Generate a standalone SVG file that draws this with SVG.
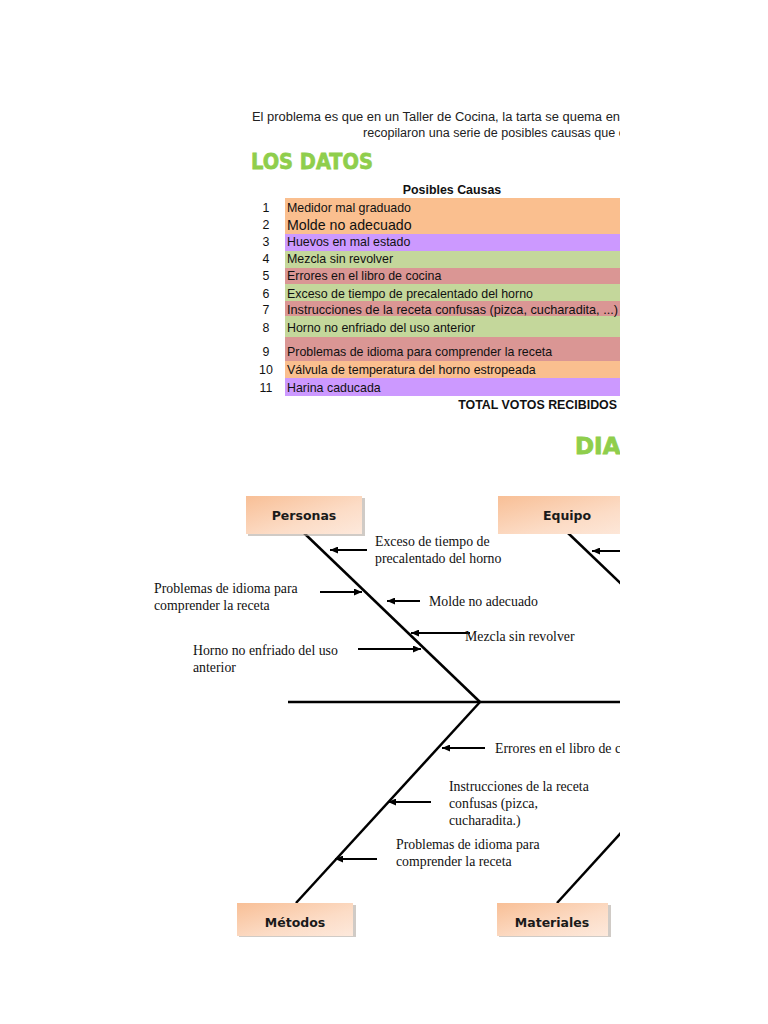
<svg xmlns="http://www.w3.org/2000/svg" width="768" height="1024" viewBox="0 0 768 1024">
<style>
.intro{font-family:"Liberation Sans","DejaVu Sans",sans-serif;font-size:12px;fill:#222}
.head{font-family:"DejaVu Sans","Liberation Sans",sans-serif;font-weight:900;fill:#8fce4c;stroke:#8fce4c;stroke-width:0.8}
.tb{font-family:"Liberation Sans",Arial,sans-serif;font-size:12.4px;fill:#111}
.num{font-family:"Liberation Sans",Arial,sans-serif;font-size:12.4px;fill:#111;text-anchor:middle}
.bold{font-weight:bold}
.lbl{font-family:"Liberation Serif","Times New Roman",serif;font-size:13.8px;fill:#111}
.box{fill:url(#boxg)}
.shadow{fill:#b0a8a0;opacity:0.6}
.btxt{font-family:"DejaVu Sans","Liberation Sans",sans-serif;font-weight:bold;font-size:12.5px;fill:#1a1a1a;text-anchor:middle}
.bone{stroke:#000;stroke-width:2.5;fill:none}
.arr{stroke:#000;stroke-width:2;fill:none;marker-end:url(#ah)}
.orange{fill:#fabf8f}.purple{fill:#cc99ff}.green{fill:#c4d79b}.red{fill:#da9694}
</style>
<defs>
<clipPath id="page"><rect x="0" y="0" width="620" height="1024"/></clipPath>
<linearGradient id="boxg" x1="0" y1="0" x2="1" y2="1">
<stop offset="0" stop-color="#f8bf96"/>
<stop offset="0.6" stop-color="#fcdcc6"/>
<stop offset="1" stop-color="#fde9dc"/>
</linearGradient>
<marker id="ah" markerWidth="8" markerHeight="7" refX="8" refY="3.5" orient="auto" markerUnits="userSpaceOnUse">
<path d="M0,0 L8,3.5 L0,7 Z" fill="#000"/>
</marker>
</defs>
<rect width="768" height="1024" fill="#fff"/>
<g clip-path="url(#page)">
<g id="intro">
<text class="intro" x="252" y="121" textLength="368" lengthAdjust="spacingAndGlyphs">El problema es que en un Taller de Cocina, la tarta se quema en</text>
<text class="intro" x="363" y="137" textLength="262" lengthAdjust="spacingAndGlyphs">recopilaron una serie de posibles causas que c</text>
</g>
<text class="head" x="251" y="169" font-size="22" textLength="122" lengthAdjust="spacingAndGlyphs">LOS DATOS</text>
<g id="table">
<text class="tb bold" x="452" y="194" text-anchor="middle">Posibles Causas</text>
<rect class="orange" x="285" y="198" width="335" height="36"/>
<rect class="purple" x="285" y="234" width="335" height="17"/>
<rect class="green" x="285" y="251" width="335" height="17"/>
<rect class="red" x="285" y="268" width="335" height="16"/>
<rect class="green" x="285" y="284" width="335" height="17"/>
<rect class="red" x="285" y="301" width="335" height="15"/>
<rect class="green" x="285" y="316" width="335" height="21"/>
<rect class="red" x="285" y="337" width="335" height="24"/>
<rect class="orange" x="285" y="361" width="335" height="17"/>
<rect class="purple" x="285" y="378" width="335" height="18"/>
<text class="num" x="266" y="212">1</text><text class="tb" x="287" y="212">Medidor mal graduado</text>
<text class="num" x="266" y="229">2</text><text class="tb" x="287" y="230" style="font-size:14.2px">Molde no adecuado</text>
<text class="num" x="266" y="246">3</text><text class="tb" x="287" y="246">Huevos en mal estado</text>
<text class="num" x="266" y="263">4</text><text class="tb" x="287" y="263">Mezcla sin revolver</text>
<text class="num" x="266" y="280">5</text><text class="tb" x="287" y="280">Errores en el libro de cocina</text>
<text class="num" x="266" y="298">6</text><text class="tb" x="287" y="298">Exceso de tiempo de precalentado del horno</text>
<text class="num" x="266" y="314">7</text><text class="tb" x="287" y="314" textLength="331" lengthAdjust="spacingAndGlyphs">Instrucciones de la receta confusas (pizca, cucharadita, ...)</text>
<text class="num" x="266" y="332">8</text><text class="tb" x="287" y="332">Horno no enfriado del uso anterior</text>
<text class="num" x="266" y="356">9</text><text class="tb" x="287" y="356">Problemas de idioma para comprender la receta</text>
<text class="num" x="266" y="374">10</text><text class="tb" x="287" y="374">Válvula de temperatura  del horno estropeada</text>
<text class="num" x="266" y="392">11</text><text class="tb" x="287" y="392">Harina caducada</text>
<text class="tb bold" x="617" y="409" text-anchor="end">TOTAL VOTOS RECIBIDOS</text>
</g>
<text class="head" x="575" y="454" font-size="23">DIAG</text>
<g id="connectors">
<line class="bone" x1="288" y1="702" x2="625" y2="702"/>
<line class="bone" x1="304" y1="533" x2="480" y2="702"/>
<line class="bone" x1="480" y1="702" x2="296" y2="903"/>
<line class="bone" x1="568" y1="533" x2="640" y2="602"/>
<line class="bone" x1="557" y1="903" x2="640" y2="812"/>
<line class="arr" x1="367" y1="550" x2="330" y2="550"/>
<line class="arr" x1="320" y1="592" x2="362" y2="592"/>
<line class="arr" x1="420" y1="601" x2="387" y2="601"/>
<line class="arr" x1="470" y1="633" x2="411" y2="633"/>
<line class="arr" x1="358" y1="649" x2="421" y2="649"/>
<line class="arr" x1="485" y1="748" x2="442" y2="748"/>
<line class="arr" x1="431" y1="802" x2="388" y2="802"/>
<line class="arr" x1="377" y1="859" x2="335" y2="859"/>
<line class="arr" x1="625" y1="551" x2="592" y2="551"/>
</g>
<g id="personas">
<rect class="shadow" x="248" y="498" width="117" height="38"/>
<rect class="box" x="246" y="496" width="116" height="38"/>
<text class="btxt" x="304" y="520">Personas</text>
</g>
<g id="equipo">
<rect class="box" x="498" y="496" width="140" height="38"/>
<text class="btxt" x="567" y="520">Equipo</text>
</g>
<g id="metodos">
<rect class="shadow" x="239" y="905" width="117" height="32"/>
<rect class="box" x="237" y="903" width="116" height="33"/>
<text class="btxt" x="295" y="927">Métodos</text>
</g>
<g id="materiales">
<rect class="shadow" x="499" y="905" width="112" height="32"/>
<rect class="box" x="497" y="903" width="111" height="33"/>
<text class="btxt" x="552" y="927">Materiales</text>
</g>
<g id="labels">
<text class="lbl" x="375" y="546">Exceso de tiempo de</text>
<text class="lbl" x="375" y="563">precalentado del horno</text>
<text class="lbl" x="154" y="593">Problemas de idioma para</text>
<text class="lbl" x="154" y="610">comprender la receta</text>
<text class="lbl" x="429" y="606">Molde no adecuado</text>
<text class="lbl" x="465" y="641">Mezcla sin revolver</text>
<text class="lbl" x="193" y="655">Horno no enfriado del uso</text>
<text class="lbl" x="193" y="672">anterior</text>
<text class="lbl" x="495" y="753">Errores en el libro de c</text>
<text class="lbl" x="449" y="791">Instrucciones de la receta</text>
<text class="lbl" x="449" y="808">confusas (pizca,</text>
<text class="lbl" x="449" y="825">cucharadita.)</text>
<text class="lbl" x="396" y="849">Problemas de idioma para</text>
<text class="lbl" x="396" y="866">comprender la receta</text>
</g>
</g>
</svg>
